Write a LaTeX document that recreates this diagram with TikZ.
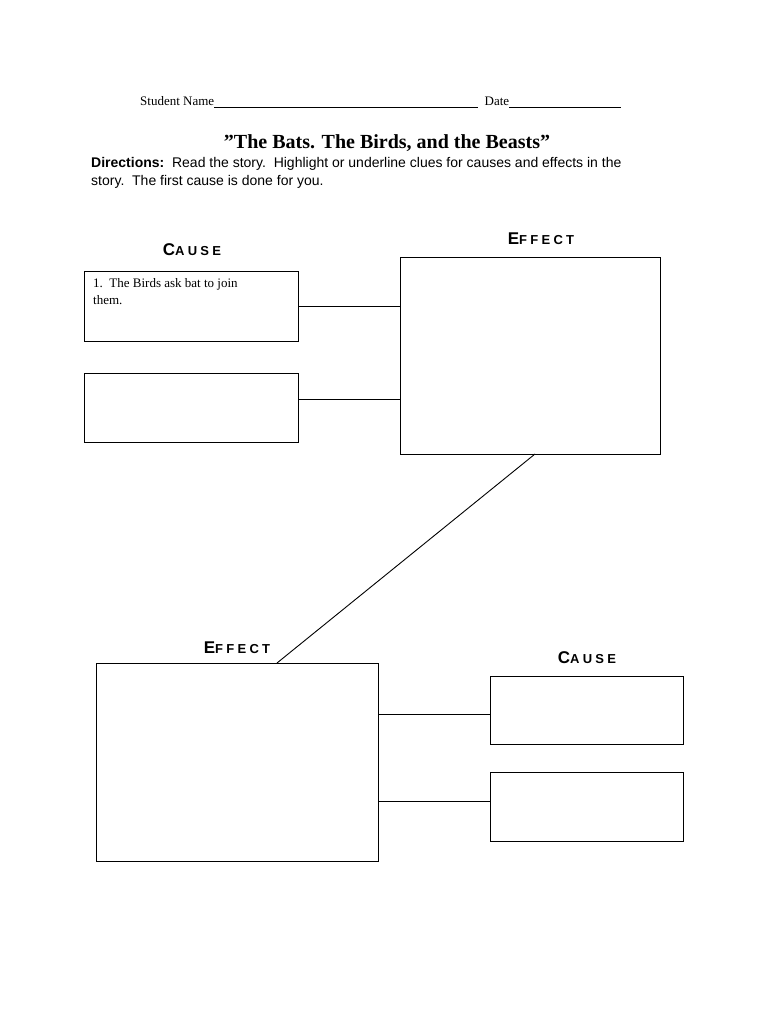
\documentclass[tikz,border=0pt]{standalone}
\usepackage{fontspec}
\setmainfont{Liberation Serif}
\newfontfamily\arialf{Liberation Sans}
\begin{document}
\begin{tikzpicture}[x=1pt,y=-1pt,
  bx/.style={draw,line width=0.9pt},
  ln/.style={line width=0.9pt},
  hd/.style={font=\arialf\bfseries\fontsize{15}{15}\selectfont,anchor=base},
  nd/.style={inner sep=0pt}]
\useasboundingbox (0,0) rectangle (768,1024);
\newcommand{\capword}[2]{{\fontsize{17}{17}\selectfont #1}\fontsize{13}{13}\selectfont\addfontfeature{LetterSpace=25}#2}
\node[nd,anchor=base west,font=\fontsize{13}{13}\selectfont] (sn) at (140,106) {Student Name\underline{\hspace{264pt}}\ \ Date\underline{\hspace{112pt}}};
\node[nd,anchor=base,font=\fontsize{20}{20}\selectfont\bfseries] (tt) at (387,149) {"The Bats. The Birds, and the Beasts”};
\node[nd,anchor=base west,align=left,font=\arialf\fontsize{14}{18}\selectfont] (dir) at (91,186) {\textbf{Directions:}\ \ Read the story.\ \ Highlight or underline clues for causes and effects in the\\story.\ \ The first cause is done for you.};
\node[hd] (l1) at (192,255) {\capword{C}{AUSE}};
\node[hd] (l2) at (541,244) {\capword{E}{FFECT}};
\node[hd] (l3) at (237,653) {\capword{E}{FFECT}};
\node[hd] (l4) at (587,663) {\capword{C}{AUSE}};
\draw[bx] (84,271) rectangle (298,341);
\node[nd,anchor=north west,align=left,font=\fontsize{13}{17}\selectfont] (t1) at (93,278) {1.\ \ The Birds ask bat to join\\them.};
\draw[bx] (84,373) rectangle (298,442);
\draw[bx] (400,257) rectangle (660,454);
\draw[bx] (96,663) rectangle (378,861);
\draw[bx] (490,676) rectangle (683,744);
\draw[bx] (490,772) rectangle (683,841);
\coordinate (a1) at (298,306); \coordinate (b1) at (400,306);
\coordinate (a2) at (298,399); \coordinate (b2) at (400,399);
\coordinate (a3) at (535,454); \coordinate (b3) at (277,663);
\coordinate (a4) at (378,714); \coordinate (b4) at (490,714);
\coordinate (a5) at (378,801); \coordinate (b5) at (490,801);
\draw[ln] (a1)--(b1); \draw[ln] (a2)--(b2); \draw[ln] (a3)--(b3);
\draw[ln] (a4)--(b4); \draw[ln] (a5)--(b5);
\end{tikzpicture}
\end{document}
